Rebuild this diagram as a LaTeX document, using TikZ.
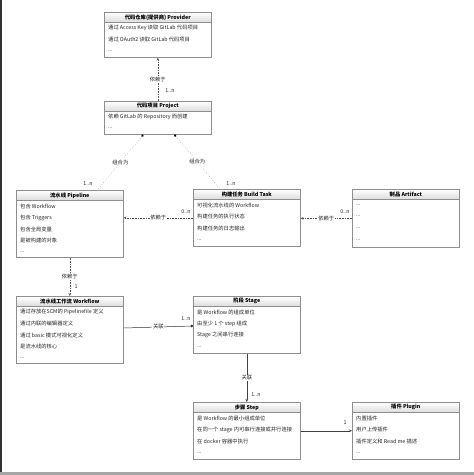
\documentclass[tikz,border=0pt]{standalone}
\usepackage{fontspec}
\setmainfont{Noto Sans CJK SC}
\usetikzlibrary{shadows,arrows.meta,calc}
\definecolor{boxgray}{HTML}{8E8E8E}
\definecolor{headgray}{HTML}{DCDCDC}
\definecolor{linegray}{HTML}{555555}
\definecolor{compgray}{HTML}{909090}
\newcommand{\ddd}{...}
\newcommand{\umlclass}[6]{%
  \node[classbox, minimum height=#4pt] (#1) at (#2,#3) {};
  \node[classhead] (#1-h) at (#2,#3) {#5};
  \foreach \rowtxt [count=\i] in {#6} {
    \pgfmathsetmacro\yy{#3+16+11.6*(\i-1)}
    \node[rowtext] (#1-r\i) at (#2+4,\yy) {\rowtxt};
  }
}
\begin{document}
\begin{tikzpicture}[x=1pt,y=-1pt,
  font=\fontsize{5.3}{6.5}\selectfont,
  classbox/.style={draw=boxgray, fill=white, line width=0.6pt, minimum width=107pt, anchor=north west, inner sep=0pt,
    drop shadow={shadow xshift=0.9pt, shadow yshift=-0.9pt, opacity=0.25}},
  classhead/.style={draw=boxgray, line width=0.6pt, top color=white, bottom color=headgray, minimum width=107pt, minimum height=10pt, anchor=north west, inner sep=0pt, font=\fontsize{5.3}{6.5}\selectfont\bfseries},
  rowtext/.style={anchor=west, inner sep=0pt, text=black!85},
  dep/.style={densely dotted, line width=0.6pt, draw=linegray, -{Stealth[length=3pt,width=2.6pt]}},
  comp/.style={dotted, line width=0.5pt, draw=compgray, {Circle[length=2.4pt,color=black]}-},
  assoc/.style={draw=black!75, line width=0.5pt, -{Stealth[length=3pt,width=2.6pt]}},
  assocdot/.style={draw=black!80, line width=0.5pt, -{Circle[length=2.6pt]}},
  lab/.style={fill=white, inner sep=0.6pt, text=black!85},
  mult/.style={inner sep=0pt, text=black!85}]
\useasboundingbox (0,0) rectangle (474,475);
\fill[white] (0,0) rectangle (474,475);
\fill[black!80] (0,0) rectangle (2,475);
\fill[black!35] (0,472) rectangle (474,475);

\umlclass{provider}{104}{12}{45}{代码仓库(提供商) Provider}{通过 Access Key 读取 GitLab 代码项目, 通过 OAuth2 读取 GitLab 代码项目, \ddd}
\umlclass{project}{104}{101}{33}{代码项目 Project}{依赖 GitLab 的 Repository 而创建, \ddd}
\umlclass{pipeline}{16}{190}{67}{流水线 Pipeline}{包含 Workflow, 包含 Triggers, 包含全局变量, 是被构建的对象, \ddd}
\umlclass{buildtask}{193}{189}{57}{构建任务 Build Task}{可视化流水线的 Workflow, 构建任务的执行状态, 构建任务的日志输出, \ddd}
\umlclass{artifact}{352}{189}{58}{制品 Artifact}{\ddd, \ddd, \ddd, \ddd}
\umlclass{workflow}{16}{296}{67}{流水线工作流 Workflow}{通过存放在SCM的 Pipelinefile 定义, 通过内联的编辑器定义, 通过 basic 模式可视化定义, 是流水线的核心, \ddd}
\umlclass{stage}{193}{296}{57}{阶段 Stage}{是 Workflow 的组成单位, 由至少 1 个 step 组成, Stage 之间串行连接, \ddd}
\umlclass{step}{193}{402}{57}{步骤 Step}{是 Workflow 的最小组成单位, 在同一个 stage 内可串行连接或并行连接, 在 docker 容器中执行, \ddd}
\umlclass{plugin}{352}{402}{57}{插件 Plugin}{内置插件, 用户上传插件, 插件定义和 Read me 描述, \ddd}

% Project -> Provider
\draw[dep] (project.north) -- node[lab, pos=0.5] (l1) {依赖于} (provider.south);
\node[mult] (m1) at (170,91) {1..n};

% Project composes Pipeline / Build Task
\coordinate (pjl) at ($(project.south west)!0.365!(project.south east)$);
\coordinate (pjr) at ($(project.south west)!0.654!(project.south east)$);
\coordinate (pit) at ($(pipeline.north west)!0.757!(pipeline.north east)$);
\coordinate (btt) at ($(buildtask.north west)!0.252!(buildtask.north east)$);
\draw[comp] (pjl) -- node[lab] (l2) {组合为} (pit);
\draw[comp] (pjr) -- node[lab] (l3) {组合为} (btt);
\node[mult] (m2) at (88,184) {1..n};
\node[mult] (m3) at (231,184) {1..n};

% Build Task -> Pipeline
\draw[dep] (buildtask.west) -- node[lab] (l4) {依赖于} (buildtask.west -| pipeline.east);
\node[mult] (m4) at (186,212) {0..n};

% Artifact -> Build Task
\draw[dep] (artifact.west) -- node[lab] (l5) {依赖于} (artifact.west -| buildtask.east);
\node[mult] (m5) at (345,212) {0..n};

% Pipeline -> Workflow
\draw[dep] (pipeline.south) -- node[lab] (l6) {依赖于} (workflow.north);
\node[mult] (m6) at (76,287) {1};

% Workflow -> Stage
\coordinate (wfe) at ($(workflow.north east)+(0,32)$);
\coordinate (stw) at ($(stage.north west)+(0,30)$);
\draw[assocdot] (wfe) -- node[lab] (l7) {关联} (stw);
\node[mult] (m7) at (186,319) {1..n};

% Stage -> Step
\draw[assoc] (stage.south) -- node[lab] (l8) {关联} (step.north);
\node[mult] (m8) at (256,395) {1..n};

% Step -> Plugin
\draw[assoc] (step.east) -- (step.east -| plugin.west);
\node[mult] (m9) at (345,423) {1};
\end{tikzpicture}
\end{document}
